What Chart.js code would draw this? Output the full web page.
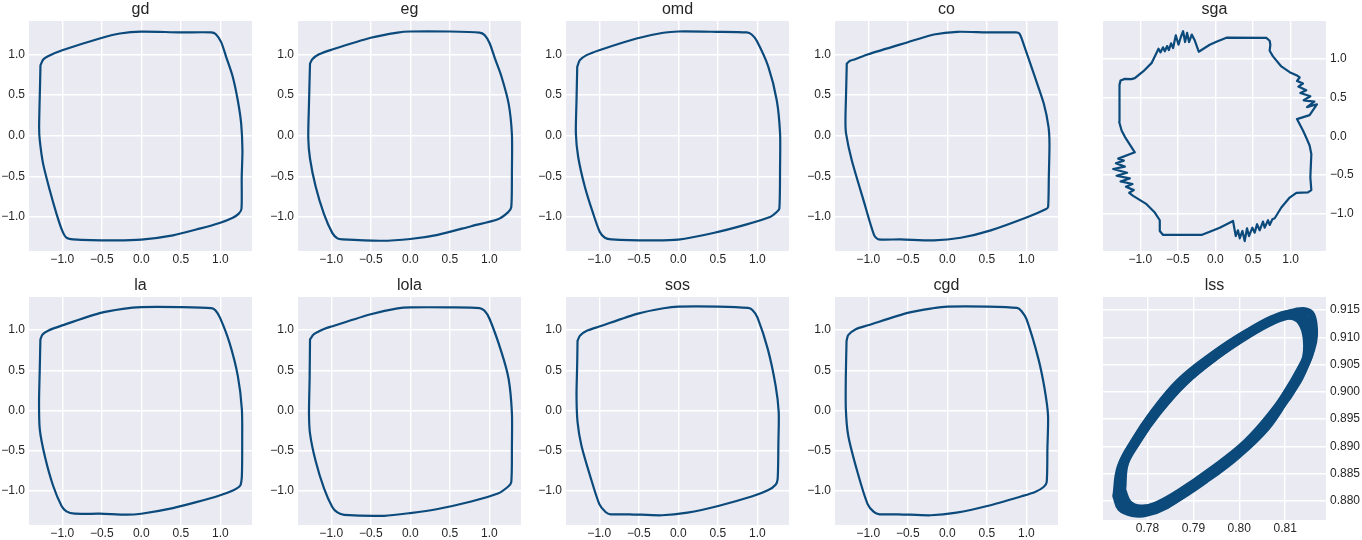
<!DOCTYPE html>
<html>
<head>
<meta charset="utf-8">
<script src="https://cdn.jsdelivr.net/npm/chart.js@4.4.0/dist/chart.umd.min.js"></script>
<style>
  body { margin: 0; background: #fff; width: 1362px; height: 540px; overflow: hidden; position: relative; }
  canvas { position: absolute; }
</style>
</head>
<body>
<script>
// trajectories, [x, y] per point, each closed loop
const gdPath = [[-1.275,0.866],[-1.24,0.936],[-1.18,0.977],[-1.0,1.05],[-0.526,1.195],[-0.27,1.256],[0,1.28],[0.48,1.27],[0.884,1.27],[0.94,1.25],[1.01,1.15],[1.073,0.969],[1.157,0.722],[1.22,0.435],[1.263,0.148],[1.279,-0.18],[1.27,-0.51],[1.267,-0.9],[1.233,-0.96],[1.157,-1.01],[0.99,-1.075],[0.737,-1.145],[0.40,-1.227],[0,-1.28],[-0.358,-1.289],[-0.863,-1.277],[-0.947,-1.256],[-1.0,-1.17],[-1.073,-0.96],[-1.157,-0.673],[-1.242,-0.345],[-1.284,-0.057],[-1.292,0.107],[-1.28,0.64]];
const egPath = [[-1.268,0.885],[-1.239,0.94],[-1.154,1.0],[-1.0,1.055],[-0.499,1.204],[-0.161,1.268],[0,1.281],[0.474,1.281],[0.875,1.268],[0.939,1.238],[1.002,1.14],[1.07,0.95],[1.150,0.736],[1.243,0.396],[1.285,0.013],[1.285,-0.455],[1.277,-0.881],[1.235,-0.945],[1.108,-1.03],[0.770,-1.115],[0.347,-1.221],[0,-1.272],[-0.372,-1.294],[-0.858,-1.277],[-0.922,-1.264],[-0.985,-1.2],[-1.091,-0.966],[-1.197,-0.626],[-1.268,-0.285],[-1.290,-0.030],[-1.281,0.396]];
const omdPath = [[-1.278,0.846],[-1.245,0.928],[-1.160,0.990],[-1.0,1.051],[-0.527,1.195],[-0.190,1.265],[0,1.281],[0.485,1.277],[0.865,1.269],[0.928,1.244],[0.992,1.166],[1.139,0.846],[1.245,0.435],[1.287,0.025],[1.287,-0.386],[1.278,-0.899],[1.245,-0.940],[1.160,-1.002],[0.865,-1.092],[0.443,-1.199],[0,-1.281],[-0.359,-1.290],[-0.844,-1.277],[-0.928,-1.257],[-0.992,-1.187],[-1.076,-0.961],[-1.181,-0.632],[-1.266,-0.263],[-1.295,0.025],[-1.287,0.435]];
const coPath = [[-1.271,0.887],[-1.229,0.92],[-1.165,0.94],[-1.0,1.0],[-0.508,1.146],[-0.169,1.244],[0.127,1.277],[0.508,1.269],[0.869,1.269],[0.911,1.257],[0.94,1.195],[1.10,0.743],[1.22,0.394],[1.28,0.107],[1.292,-0.1],[1.284,-0.51],[1.275,-0.879],[1.25,-0.903],[1.017,-1.002],[0.55,-1.166],[0.17,-1.257],[-0.17,-1.29],[-0.593,-1.277],[-0.869,-1.277],[-0.924,-1.228],[-1.059,-0.797],[-1.208,-0.304],[-1.28,0.025],[-1.288,0.189],[-1.28,0.517]];
const laPath = [[-1.276,0.881],[-1.251,0.942],[-1.179,0.992],[-1.0,1.058],[-0.526,1.210],[-0.232,1.263],[0,1.284],[0.484,1.284],[0.884,1.272],[0.939,1.243],[0.998,1.148],[1.116,0.840],[1.221,0.428],[1.272,0.016],[1.276,-0.395],[1.272,-0.807],[1.251,-0.930],[1.158,-0.992],[0.989,-1.053],[0.695,-1.136],[0.400,-1.210],[0,-1.280],[-0.189,-1.292],[-0.526,-1.280],[-0.842,-1.280],[-0.947,-1.251],[-1.008,-1.185],[-1.116,-0.930],[-1.221,-0.560],[-1.284,-0.230],[-1.293,0.099],[-1.284,0.510]];
const lolaPath = [[-1.268,0.885],[-1.218,0.949],[-1.091,1.013],[-1.0,1.043],[-0.499,1.196],[-0.161,1.268],[0,1.281],[0.516,1.281],[0.875,1.272],[0.939,1.238],[1.002,1.14],[1.150,0.736],[1.243,0.396],[1.285,-0.030],[1.285,-0.455],[1.277,-0.889],[1.235,-0.945],[1.108,-1.03],[0.770,-1.128],[0.347,-1.221],[0,-1.272],[-0.330,-1.306],[-0.837,-1.294],[-0.922,-1.264],[-0.985,-1.2],[-1.091,-0.966],[-1.197,-0.626],[-1.268,-0.285],[-1.281,-0.030],[-1.273,0.396]];
const sosPath = [[-1.274,0.866],[-1.244,0.928],[-1.158,0.990],[-1.0,1.043],[-0.510,1.204],[-0.186,1.270],[0,1.291],[0.505,1.291],[0.881,1.274],[0.937,1.249],[1.002,1.155],[1.132,0.763],[1.231,0.309],[1.270,-0.021],[1.266,-0.392],[1.257,-0.845],[1.231,-0.920],[1.132,-0.990],[0.937,-1.064],[0.505,-1.184],[0.117,-1.266],[-0.207,-1.299],[-0.618,-1.287],[-0.855,-1.287],[-0.920,-1.258],[-1.0,-1.157],[-1.117,-0.804],[-1.225,-0.433],[-1.274,-0.144],[-1.287,0.186],[-1.279,0.557]];
const cgdPath = [[-1.274,0.866],[-1.253,0.936],[-1.158,1.010],[-1.0,1.060],[-0.488,1.216],[-0.186,1.270],[0,1.291],[0.505,1.291],[0.881,1.274],[0.937,1.237],[1.002,1.134],[1.153,0.639],[1.231,0.268],[1.274,-0.062],[1.266,-0.474],[1.257,-0.887],[1.218,-0.948],[1.110,-1.010],[0.937,-1.064],[0.505,-1.184],[0.117,-1.266],[-0.207,-1.299],[-0.618,-1.287],[-0.855,-1.287],[-0.929,-1.258],[-1.009,-1.157],[-1.136,-0.763],[-1.253,-0.309],[-1.283,0.021],[-1.283,0.433]];
const sgaPath = [[-1.072,-0.209],[-1.204,-0.008],[-1.248,0.074],[-1.28,0.188],[-1.271,0.405],[-1.28,0.666],[-1.262,0.722],[-1.204,0.744],[-1.116,0.740],[-1.072,0.753],[-0.961,0.840],[-0.85,0.948],[-0.784,1.079],
  [-0.757,1.135],[-0.730,1.088],[-0.696,1.153],[-0.673,1.101],[-0.643,1.170],[-0.620,1.118],[-0.590,1.205],[-0.563,1.144],[-0.527,1.310],[-0.491,1.187],[-0.461,1.284],[-0.430,1.362],[-0.404,1.222],[-0.377,1.340],[-0.351,1.222],[-0.315,1.318],[-0.279,1.252],[-0.222,1.096],[-0.076,1.187],[0.013,1.226],[0.146,1.278],
  [0.677,1.275],[0.721,1.239],[0.730,1.187],[0.721,1.109],[0.765,1.036],[0.876,0.905],[0.987,0.831],[1.084,0.788],
  [1.120,0.762],[1.084,0.718],[1.164,0.684],[1.102,0.644],[1.208,0.596],[1.129,0.561],[1.262,0.518],[1.173,0.466],[1.315,0.449],[1.217,0.378],[1.349,0.414],[1.252,0.274],[1.084,0.222],
  [1.164,0.074],[1.208,-0.021],[1.252,-0.121],[1.275,-0.230],[1.262,-0.535],[1.275,-0.699],[1.230,-0.730],[1.076,-0.735],[0.987,-0.796],[0.876,-0.926],[0.788,-1.065],
  [0.757,-1.078],[0.721,-1.152],[0.699,-1.091],[0.655,-1.187],[0.632,-1.109],[0.588,-1.221],[0.553,-1.143],[0.522,-1.252],[0.491,-1.187],[0.446,-1.296],[0.420,-1.195],[0.389,-1.361],[0.359,-1.230],[0.323,-1.326],[0.300,-1.221],[0.270,-1.296],[0.234,-1.100],
  [0.057,-1.187],[-0.076,-1.239],[-0.186,-1.282],[-0.385,-1.282],[-0.696,-1.282],[-0.740,-1.230],[-0.740,-1.091],[-0.806,-0.991],[-0.916,-0.882],[-1.094,-0.774],
  [-1.147,-0.735],[-1.085,-0.700],[-1.191,-0.656],[-1.102,-0.621],[-1.262,-0.587],[-1.138,-0.548],[-1.315,-0.513],[-1.174,-0.474],[-1.360,-0.426],[-1.204,-0.395],[-1.324,-0.352],[-1.218,-0.317],[-1.293,-0.291]];
// lss: the band is many nearly overlapping loops; outer, middle and inner tracks
const lssOuter = [[0.7731,0.8809],[0.7740,0.8861],[0.7769,0.8908],[0.7812,0.8962],[0.7869,0.9019],[0.7940,0.9067],[0.8012,0.9107],[0.8069,0.9130],[0.8111,0.9145],[0.8143,0.9149],[0.8158,0.9141],[0.8164,0.9113],[0.8162,0.9091],[0.8152,0.9064],[0.8128,0.9019],[0.8085,0.8966],[0.8027,0.8911],[0.7960,0.8863],[0.7898,0.8824],[0.7841,0.8791],[0.7797,0.8777],[0.7767,0.8777],[0.7741,0.8787]];
const lssMiddle = [[0.7738,0.8815],[0.7746,0.8865],[0.7774,0.8908],[0.7817,0.8962],[0.7876,0.9018],[0.7948,0.9067],[0.8021,0.9108],[0.8073,0.9132],[0.8110,0.9142],[0.8138,0.9138],[0.8154,0.9105],[0.8152,0.9072],[0.8135,0.9040],[0.8101,0.8991],[0.8057,0.8936],[0.7993,0.8884],[0.7924,0.8840],[0.7855,0.8802],[0.7807,0.8784],[0.7775,0.8782],[0.7750,0.8791]];
const lssInner = [[0.7746,0.8820],[0.7752,0.8869],[0.7778,0.8909],[0.7823,0.8962],[0.7881,0.9017],[0.7955,0.9068],[0.8029,0.9111],[0.8077,0.9134],[0.8109,0.9139],[0.8134,0.9128],[0.8146,0.9096],[0.8142,0.9055],[0.8117,0.9016],[0.8073,0.8963],[0.8014,0.8907],[0.7941,0.8858],[0.7867,0.8815],[0.7817,0.8792],[0.7785,0.8787],[0.7759,0.8796]];

// axis ranges
const squareX = [-1.42, 1.40], squareY = [-1.42, 1.41];
const sgaX = [-1.495, 1.47], sgaY = [-1.49, 1.495];
const lssX = [0.7703, 0.8189], lssY = [0.8765, 0.9174];

const LINE = '#0b4a7b', TEXT = '#262626', PLOT_BG = '#eaeaf2';
const FONT = '"Liberation Sans", Arial, sans-serif';
Chart.defaults.font.family = FONT;

const colLeft = [29, 298, 566, 835, 1103];
const rowTop = [0, 276];
const PLOT_W = 223, AXIS_L = 29, AXIS_R = 38, TOP_PAD = 21, X_AXIS_H = 19;

const panels = [
  { name: 'gd',   loops: [gdPath],   row: 0, col: 0, plotH: 230 },
  { name: 'eg',   loops: [egPath],   row: 0, col: 1, plotH: 230 },
  { name: 'omd',  loops: [omdPath],  row: 0, col: 2, plotH: 230 },
  { name: 'co',   loops: [coPath],   row: 0, col: 3, plotH: 230 },
  { name: 'sga',  loops: [sgaPath],  row: 0, col: 4, plotH: 230, right: true, xr: sgaX, yr: sgaY, tension: 0 },
  { name: 'la',   loops: [laPath],   row: 1, col: 0, plotH: 228 },
  { name: 'lola', loops: [lolaPath], row: 1, col: 1, plotH: 228 },
  { name: 'sos',  loops: [sosPath],  row: 1, col: 2, plotH: 228 },
  { name: 'cgd',  loops: [cgdPath],  row: 1, col: 3, plotH: 228 },
  { name: 'lss',  loops: [lssOuter, lssMiddle, lssInner], row: 1, col: 4, plotH: 223, right: true,
    xr: lssX, yr: lssY, xStep: 0.01, yStep: 0.005, xDec: 2, yDec: 3, lw: [7, 10, 7], tension: 0.4 }
];

const plotBg = {
  id: 'plotBg',
  beforeDraw(chart) {
    const a = chart.chartArea, ctx = chart.ctx;
    ctx.save();
    ctx.fillStyle = PLOT_BG;
    ctx.fillRect(a.left, a.top, a.right - a.left, a.bottom - a.top);
    ctx.restore();
  }
};

// title centred over the plot area, not the whole canvas
const panelTitle = {
  id: 'panelTitle',
  afterDraw(chart, args, opts) {
    const a = chart.chartArea, ctx = chart.ctx;
    ctx.save();
    ctx.font = '16px ' + FONT;
    ctx.fillStyle = TEXT;
    ctx.textAlign = 'center';
    ctx.textBaseline = 'alphabetic';
    ctx.fillText(opts.text, (a.left + a.right) / 2, 14);
    ctx.restore();
  }
};

function fmt(dec) {
  return v => (Math.abs(v) < 1e-9 ? 0 : v).toFixed(dec).replace('-', '\u2212');
}

function axis(range, step, dec, extra) {
  return Object.assign({
    type: 'linear',
    min: range[0],
    max: range[1],
    ticks: { stepSize: step, includeBounds: false, autoSkip: false, maxRotation: 0,
             color: TEXT, font: { size: 12 }, callback: fmt(dec) },
    grid: { color: '#ffffff', lineWidth: 1.4, drawTicks: false },
    border: { display: false }
  }, extra);
}

panels.forEach(p => {
  const w = PLOT_W + (p.right ? AXIS_R : AXIS_L);
  const h = TOP_PAD + p.plotH + X_AXIS_H;
  const cv = document.createElement('canvas');
  cv.width = w; cv.height = h;
  cv.style.width = w + 'px'; cv.style.height = h + 'px';
  cv.style.left = (colLeft[p.col] - (p.right ? 0 : AXIS_L)) + 'px';
  cv.style.top = rowTop[p.row] + 'px';
  document.body.appendChild(cv);

  const xs = axis(p.xr || squareX, p.xStep || 0.5, p.xDec || 1, {
    position: 'bottom',
    afterFit(s) { s.height = X_AXIS_H; }
  });
  xs.ticks.padding = 1;
  const ys = axis(p.yr || squareY, p.yStep || 0.5, p.yDec || 1, {
    position: p.right ? 'right' : 'left',
    afterFit(s) { s.width = p.right ? AXIS_R : AXIS_L; }
  });
  ys.ticks.padding = 4;

  new Chart(cv, {
    type: 'scatter',
    data: {
      datasets: p.loops.map((loop, i) => {
        const pts = loop.map(d => ({ x: d[0], y: d[1] }));
        pts.push(pts[0]);
        return {
          data: pts,
          showLine: true,
          pointRadius: 0,
          borderColor: LINE,
          borderWidth: p.lw ? p.lw[i] : 2.2,
          borderJoinStyle: 'round',
          borderCapStyle: 'round',
          tension: p.tension !== undefined ? p.tension : 0.25,
          fill: false
        };
      })
    },
    options: {
      responsive: false,
      animation: false,
      layout: { padding: { top: TOP_PAD, left: 0, right: 0, bottom: 0 } },
      plugins: {
        legend: { display: false },
        tooltip: { enabled: false },
        panelTitle: { text: p.name }
      },
      scales: { x: xs, y: ys }
    },
    plugins: [plotBg, panelTitle]
  });
});
</script>
</body>
</html>
